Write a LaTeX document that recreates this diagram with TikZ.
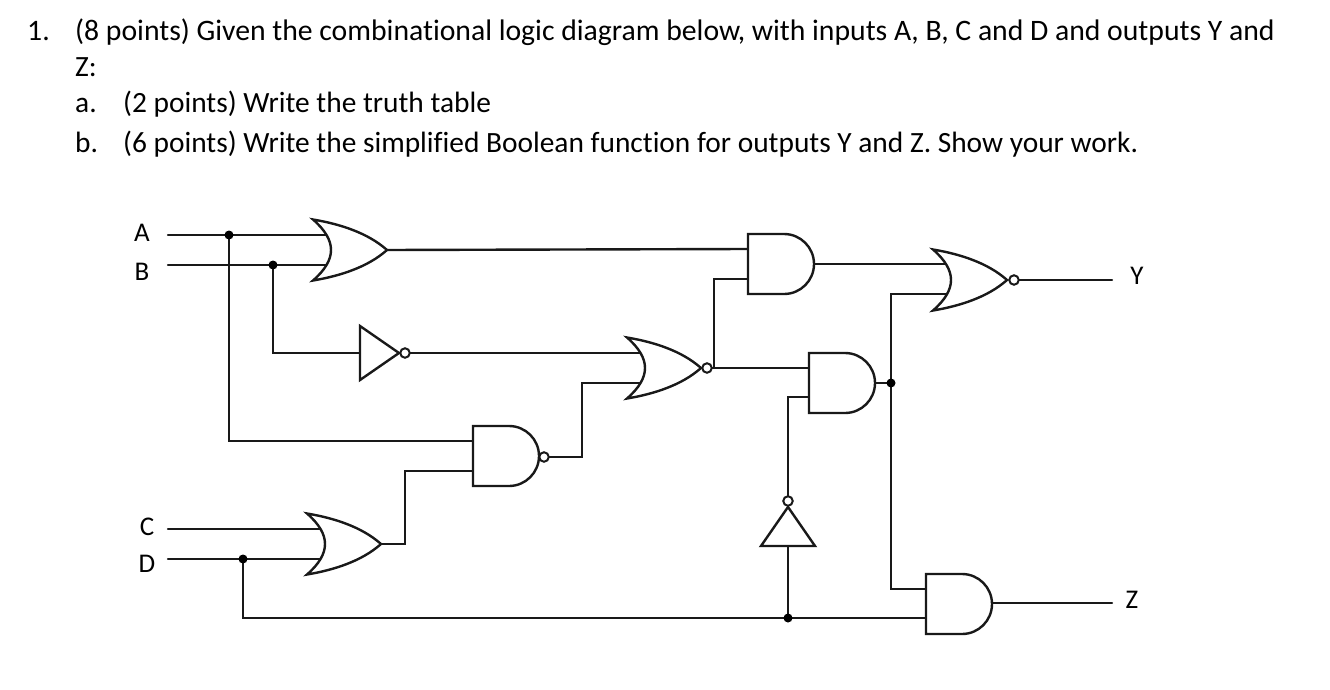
\documentclass[tikz,border=0pt]{standalone}
\usepackage{fontspec}
\setmainfont[Ligatures=NoCommon]{Carlito}
\tikzset{
  x=1pt,y=-1pt,
  wire/.style={line width=2.4pt,line cap=round,line join=miter,black!90},
  gateline/.style={line width=2.4pt,line join=miter,black!90,fill=white},
  bubble/.style={circle,draw=black!90,line width=2pt,fill=white,inner sep=0pt,minimum size=9.5pt},
  jdot/.style={circle,fill=black,inner sep=0pt,minimum size=9pt},
  hdr/.style={anchor=base west,inner sep=0pt,font=\fontsize{29.4}{34}\selectfont},
  hdrwide/.style={anchor=base west,inner sep=0pt,font=\fontsize{29.7}{34}\selectfont},
  lbl/.style={anchor=center,inner sep=0pt,font=\fontsize{27}{30}\selectfont},
  pics/orgate/.style={code={
    \draw[gateline] (0,-30.5) .. controls (27,-26) and (55,-17) .. (74,0) .. controls (55,17) and (27,26) .. (0,30.5)
      .. controls (12,20) and (18,10) .. (18,0) .. controls (18,-10) and (12,-20) .. (0,-30.5) -- cycle;
  }},
  pics/andgate/.style={code={
    \draw[gateline] (0,-30) -- (36,-30) arc[start angle=90,end angle=-90,x radius=30,y radius=-30] -- (0,30) -- cycle;
  }},
}
\begin{document}
\begin{tikzpicture}
\useasboundingbox (0,0) rectangle (1330,690);
% question text
\node[hdrwide] (q1n) at (27,41) {1.};
\node[hdrwide] (q1a) at (75,41) {(8 points) Given the combinational logic diagram below, with inputs A, B, C and D and outputs Y and};
\node[hdr] (q1b) at (75,77) {Z:};
\node[hdr] (qan) at (75,113) {a.};
\node[hdr] (qa) at (123,113) {(2 points) Write the truth table};
\node[hdr] (qbn) at (75,152) {b.};
\node[hdr] (qb) at (123,152) {(6 points) Write the simplified Boolean function for outputs Y and Z. Show your work.};
% input and output labels
\node[lbl] (A) at (142,233) {A};
\node[lbl] (B) at (142,272) {B};
\node[lbl] (C) at (147,527) {C};
\node[lbl] (D) at (147,564) {D};
\node[lbl] (Y) at (1137,276) {Y};
\node[lbl] (Z) at (1132,600) {Z};
% free ends
\coordinate (Astart) at (168,235);
\coordinate (Bstart) at (168,265);
\coordinate (Cstart) at (168,529);
\coordinate (Dstart) at (168,559);
\coordinate (Yend) at (1112,280);
\coordinate (Zend) at (1112,603);
% junctions
\coordinate (jA) at (229,235);
\coordinate (jB) at (273,265);
\coordinate (jD) at (243,559);
\coordinate (jDn) at (788,618);
\coordinate (jQ) at (891,383);
\coordinate (jN) at (714,368);
% gate ports
\coordinate (or1in1) at (326,235);
\coordinate (or1in2) at (326,265);
\coordinate (or2in1) at (640,353);
\coordinate (or2in2) at (640,383);
\coordinate (or3in1) at (946,264);
\coordinate (or3in2) at (946,294);
\coordinate (or4in1) at (320,529);
\coordinate (or4in2) at (320,559);
\coordinate (and1in1) at (748,249);
\coordinate (and1in2) at (748,279);
\coordinate (and2in1) at (809,368);
\coordinate (and2in2) at (809,397);
\coordinate (nandin1) at (473,441);
\coordinate (nandin2) at (473,471);
\coordinate (and3in1) at (926,589);
\coordinate (and3in2) at (926,618);
\coordinate (nandout) at (549,457);
\coordinate (norout) at (712,368);
\coordinate (or3out) at (1019,280);
\coordinate (or1out) at (387,250);
\coordinate (or4out) at (380,544);
\coordinate (and1out) at (813,264);
\coordinate (and2out) at (875,383);
\coordinate (and3out) at (992,603);
\coordinate (inv1in) at (360,353);
\coordinate (inv1out) at (410,353);
\coordinate (inv2top) at (788,496);
\coordinate (inv2base) at (788,546);
% wires
\draw[wire] (Astart) -- (or1in1);
\draw[wire] (Bstart) -- (or1in2);
\draw[wire] (Cstart) -- (or4in1);
\draw[wire] (Dstart) -- (or4in2);
\draw[wire] (jA) |- (nandin1);
\draw[wire] (jB) |- (inv1in);
\draw[wire] (jD) |- (and3in2);
\draw[wire] (or1out) -- (and1in1);
\draw[wire] (inv1out) -- (or2in1);
\draw[wire] (or4out) -- (405,544) |- (nandin2);
\draw[wire] (nandout) -- (582,457) |- (or2in2);
\draw[wire] (norout) -- (and2in1);
\draw[wire] (jN) |- (and1in2);
\draw[wire] (and1out) -- (or3in1);
\draw[wire] (and2out) -- (jQ);
\draw[wire] (jQ) |- (or3in2);
\draw[wire] (jQ) |- (and3in1);
\draw[wire] (and2in2) -| (inv2top);
\draw[wire] (inv2base) -- (jDn);
\draw[wire] (or3out) -- (Yend);
\draw[wire] (and3out) -- (Zend);
% gates
\pic (or1) at (313,250) {orgate};
\pic (or2) at (627,368) {orgate};
\pic (or3) at (933,280) {orgate};
\pic (or4) at (307,544) {orgate};
\pic (and1) at (748,264) {andgate};
\pic (and2) at (809,383) {andgate};
\pic (and3) at (926,604) {andgate};
\pic (nand) at (473,456) {andgate};
% inverters
\draw[gateline] (360,326) -- (399,353) -- (360,380) -- cycle;
\draw[gateline] (788,507) -- (815,546) -- (761,546) -- cycle;
% bubbles
\node[bubble] (b1) at (405,353) {};
\node[bubble] (b2) at (707,368) {};
\node[bubble] (b3) at (1014,280) {};
\node[bubble] (b4) at (544,457) {};
\node[bubble] (b5) at (788,501) {};
% dots
\node[jdot] (dA) at (jA) {};
\node[jdot] (dB) at (jB) {};
\node[jdot] (dD) at (jD) {};
\node[jdot] (dN) at (jDn) {};
\node[jdot] (dQ) at (jQ) {};
\end{tikzpicture}
\end{document}
